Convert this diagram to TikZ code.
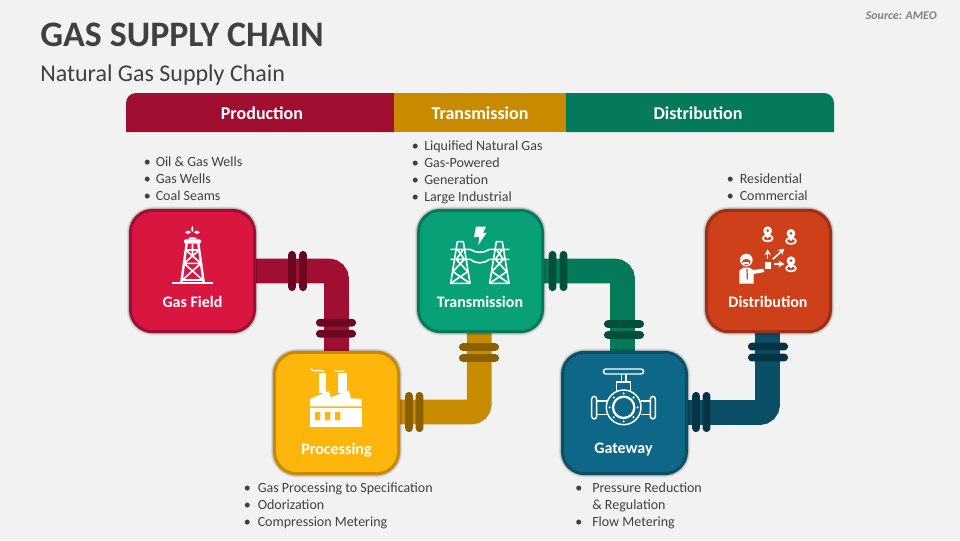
\documentclass[tikz,border=0pt]{standalone}
\usepackage{fontspec}
\setmainfont{Carlito}
\usetikzlibrary{calc,arrows.meta}
\pgfdeclarelayer{pipes}
\pgfsetlayers{pipes,main}
\definecolor{bgc}{HTML}{F2F2F2}
\definecolor{txt}{HTML}{404040}
\definecolor{redA}{HTML}{D81640}\definecolor{redB}{HTML}{A00E32}\definecolor{redC}{HTML}{6A0820}
\definecolor{golA}{HTML}{FFB60C}\definecolor{golB}{HTML}{C88B00}\definecolor{golC}{HTML}{8A6000}
\definecolor{grnA}{HTML}{07A077}\definecolor{grnB}{HTML}{047A5B}\definecolor{grnC}{HTML}{034F3B}
\definecolor{bluA}{HTML}{0F6787}\definecolor{bluB}{HTML}{0B4F66}\definecolor{bluC}{HTML}{063444}
\definecolor{oraA}{HTML}{CD401A}\definecolor{oraB}{HTML}{A03014}
\newcommand\bl[2]{\makebox[#1][l]{•}#2}
\tikzset{
  stage/.style={rectangle,rounded corners=16.5pt,minimum width=93pt,minimum height=91pt,line width=2.25pt,
    preaction={draw=black,draw opacity=.04,line width=6pt},preaction={draw=black,draw opacity=.07,line width=4.8pt},preaction={draw=black,draw opacity=.12,line width=3.6pt}},
  stagelabel/.style={text=white,font=\fontsize{12}{14}\selectfont\bfseries},
  barlabel/.style={text=white,font=\fontsize{13.5}{16}\selectfont\bfseries},
  pipe/.style={line width=18.6pt,rounded corners=6pt,line cap=butt},
  vflange/.style={rectangle,rounded corners=2.7pt,minimum width=5.7pt,minimum height=30pt,inner sep=0pt},
  hflange/.style={rectangle,rounded corners=2.7pt,minimum width=30pt,minimum height=5.7pt,inner sep=0pt},
  notes/.style={align=left,anchor=north west,inner sep=0pt,text=txt,font=\fontsize{10.5}{12.75}\selectfont},
  ico/.style={draw=white,line width=#1,line join=round},
  ico/.default=1pt,
  tip/.style={-{Stealth[length=4.5pt,width=5pt]}},
}
\begin{document}
\begin{tikzpicture}[x=.75pt,y=-.75pt]
\useasboundingbox (0,0) rectangle (960,540);
\begin{pgfonlayer}{pipes}
\fill[bgc] (0,0) rectangle (960,540);
\end{pgfonlayer}
% titles
\node[anchor=west,inner sep=0pt,text=txt,font=\fontsize{26.9}{30}\selectfont\bfseries] (title) at (40,34.5) {GAS SUPPLY CHAIN};
\node[anchor=west,inner sep=0pt,text=txt,font=\fontsize{18}{22}\selectfont] (subtitle) at (40,75) {Natural Gas Supply Chain};
\node[anchor=east,inner sep=0pt,text=black!50,font=\fontsize{8.9}{10}\selectfont\bfseries\itshape] (source) at (937,15.5) {Source: AMEO};
% header bar
\fill[redB] (126,132) -- (126,103) .. controls (126,97.5) and (130.5,93) .. (136,93) -- (394,93) -- (394,132) -- cycle;
\fill[golB] (394,93) rectangle (566,132);
\fill[grnB] (566,93) -- (824,93) .. controls (829.5,93) and (834,97.5) .. (834,103) -- (834,132) -- (566,132) -- cycle;
\node[barlabel] (hprod) at (262,113) {Production};
\node[barlabel] (htran) at (480,113) {Transmission};
\node[barlabel] (hdist) at (698,113) {Distribution};
% stages
\node[stage,fill=redA,draw=redB] (gas) at (192.5,271) {};
\node[stage,fill=golA,draw=golB] (proc) at (336.5,413) {};
\node[stage,fill=grnA,draw=grnB] (tran) at (480.5,271) {};
\node[stage,fill=bluA,draw=bluB] (gate) at (624.5,413) {};
\node[stage,fill=oraA,draw=oraB] (dist) at (768.5,271) {};
\node[stagelabel] (lgas) at (192.5,301.5) {Gas Field};
\node[stagelabel] (lproc) at (336.5,450) {Processing};
\node[stagelabel] (ltran) at (480,301.5) {Transmission};
\node[stagelabel] (lgate) at (623.5,450) {Gateway};
\node[stagelabel] (ldist) at (768,301.5) {Distribution};
% pipes
\begin{pgfonlayer}{pipes}
\draw[pipe,draw=redB] (gas.east) -| (proc.north);
\draw[pipe,draw=golB] ($(proc.east)+(0,-1)$) -| ($(tran.south)+(-1.3,0)$);
\draw[pipe,draw=grnB] (tran.east) -| ($(gate.north)+(-2,0)$);
\draw[pipe,draw=bluB] ($(gate.east)+(0,-.5)$) -| ($(dist.south)+(-1,0)$);
\end{pgfonlayer}
% flanges
\node[vflange,fill=redC] (fa1) at (292,271) {};
\node[vflange,fill=redC] (fa2) at (303,271) {};
\node[hflange,fill=redC] (fa3) at (336,322.7) {};
\node[hflange,fill=redC] (fa4) at (336,333.7) {};
\node[vflange,fill=golC] (fb1) at (409,412) {};
\node[vflange,fill=golC] (fb2) at (419.5,412) {};
\node[hflange,fill=golC] (fb3) at (479,347) {};
\node[hflange,fill=golC] (fb4) at (479,358) {};
\node[vflange,fill=grnC] (fc1) at (552.5,271) {};
\node[vflange,fill=grnC] (fc2) at (563.5,271) {};
\node[hflange,fill=grnC] (fc3) at (624,324) {};
\node[hflange,fill=grnC] (fc4) at (624,335) {};
\node[vflange,fill=bluC] (fd1) at (696,412) {};
\node[vflange,fill=bluC] (fd2) at (706.5,412) {};
\node[hflange,fill=bluC] (fd3) at (768,346.5) {};
\node[hflange,fill=bluC] (fd4) at (768,357.5) {};
% notes
\node[notes] (n1) at (143.5,156.5) {\bl{12\dimexpr.75pt\relax}{Oil \& Gas Wells}\\\bl{12\dimexpr.75pt\relax}{Gas Wells}\\\bl{12\dimexpr.75pt\relax}{Coal Seams}};
\node[notes] (n2) at (411.5,140.5) {\bl{12.5\dimexpr.75pt\relax}{Liquified Natural Gas}\\\bl{12.5\dimexpr.75pt\relax}{Gas-Powered}\\\bl{12.5\dimexpr.75pt\relax}{Generation}\\\bl{12.5\dimexpr.75pt\relax}{Large Industrial}};
\node[notes] (n3) at (726.5,173.5) {\bl{13\dimexpr.75pt\relax}{Residential}\\\bl{13\dimexpr.75pt\relax}{Commercial}};
\node[notes] (n4) at (243.5,482.5) {\bl{14\dimexpr.75pt\relax}{Gas Processing to Specification}\\\bl{14\dimexpr.75pt\relax}{Odorization}\\\bl{14\dimexpr.75pt\relax}{Compression Metering}};
\node[notes] (n5) at (575,482.5) {\bl{17\dimexpr.75pt\relax}{Pressure Reduction}\\\makebox[17\dimexpr.75pt\relax][l]{}{\& Regulation}\\\bl{17\dimexpr.75pt\relax}{Flow Metering}};
% icon: derrick
\begin{scope}[shift={(120,200)},x=.25pt,y=-.25pt]
\fill[white] (156,245) rectangle (279,252);
\draw[ico=1.8pt] (200,130)--(184,247) (235,130)--(251,247);
\draw[ico=1.2pt] (197,150)--(238,150) (192,190)--(243,190) (187,240)--(248,240)
  (197,150)--(243,190) (238,150)--(192,190) (192,190)--(248,240) (243,190)--(187,240) (217.5,132)--(217.5,170);
\fill[white,rounded corners=1pt] (192,131) rectangle (243,118);
\fill[white,rounded corners=1pt] (205,118) rectangle (230,112);
\fill[white] (217,77) .. controls (222,87) and (221,96) .. (217,96) .. controls (213,96) and (212,87) .. (217,77) -- cycle;
\fill[white] (195,97) .. controls (203,89) and (213,92) .. (212,98) .. controls (208,104) and (200,104) .. (195,97) -- cycle;
\fill[white] (240,97) .. controls (232,89) and (222,92) .. (223,98) .. controls (227,104) and (235,104) .. (240,97) -- cycle;
\end{scope}
% icon: factory
\begin{scope}[shift={(120,200)},x=.25pt,y=-.25pt]
\fill[white] (596,520) rectangle (618,580);
\fill[white] (655,520) rectangle (680,580);
\draw[ico=.9pt] (573,505) .. controls (585,522) and (595,505) .. (612,514);
\draw[ico=.9pt] (645,511) .. controls (652,520) and (660,508) .. (673,515);
\fill[white] (570,597) -- (626,573) -- (632,592) -- (688,572) -- (692,595) -- (725,597) -- (725,619) -- (570,619) -- cycle;
\fill[white] (570,624) rectangle (725,681);
\fill[golA] (585,636) rectangle (601,661) (615,636) rectangle (631,661) (645,636) rectangle (661,661);
\end{scope}
% icon: towers and bolt
\begin{scope}[shift={(400,200)},x=.25pt,y=-.25pt]
\fill[white] (228,80) -- (258,80) -- (249,99) -- (260,98) -- (235,135) -- (238,110) -- (222,112) -- cycle;
\foreach \cx in {181,298}{
  \draw[ico=1.2pt] (\cx-9,125) -- (\cx+9,125) -- (\cx+29,250) -- (\cx-29,250) -- cycle;
  \draw[ico=1.2pt] (\cx-30,148) -- (\cx+30,148) (\cx-30,178) -- (\cx+30,178)
     (\cx-9,148) -- (\cx+12,178) (\cx+9,148) -- (\cx-12,178)
     (\cx-12,178) -- (\cx+22,215) (\cx+12,178) -- (\cx-22,215)
     (\cx-22,215) -- (\cx+29,250) (\cx+22,215) -- (\cx-29,250);
}
\draw[ico=1.2pt] (211,148) .. controls (225,160) and (254,160) .. (268,148);
\draw[ico=1.2pt] (211,178) .. controls (225,192) and (254,192) .. (268,178);
\end{scope}
% icon: valve
\begin{scope}[shift={(400,200)},x=.25pt,y=-.25pt]
\draw[ico=1.1pt,rounded corners=2pt] (610,507) rectangle (731,522);
\draw[ico=1.1pt] (664,522) -- (664,546) (678,522) -- (678,546);
\draw[ico=1.1pt] (650,572) -- (650,546) -- (691,546) -- (691,572);
\draw[ico=1.1pt] (671,622) circle[x radius=52,y radius=52];
\draw[ico=1.7pt] (671,622) circle[x radius=32,y radius=32];
\foreach \a in {0,45,...,315}{\fill[white] ($(671,622)+(\a:42)$) circle[radius=3.5];}
\draw[ico=1.1pt] (620,603) -- (590,603) (620,643) -- (590,643) (722,603) -- (750,603) (722,643) -- (750,643);
\draw[ico=1.1pt,rounded corners=2pt] (575,589) rectangle (590,657);
\draw[ico=1.1pt,rounded corners=2pt] (751,589) rectangle (766,657);
\end{scope}
% icon: distribution
\begin{scope}[shift={(680,200)},x=.25pt,y=-.25pt]
\foreach \px/\py in {263/100,333/108,333/190}{
  \draw[ico=1.3pt] (\px,\py+15) circle[x radius=15,y radius=9];
  \fill[white] (\px,\py-8) circle[radius=13] (\px-12,\py-3) -- (\px+12,\py-3) -- (\px,\py+16) -- cycle;
  \fill[oraA] (\px,\py-8) circle[radius=4.5];
}
\fill[white] (199,180) circle[radius=19];
\fill[oraA] (199,186) circle[x radius=13,y radius=9];
\fill[white] (190,187) rectangle (208,192);
\fill[white] (178,251) -- (178,212) -- (190,203) -- (208,203) -- (220,210) -- (250,206) -- (253,216) -- (221,222) -- (221,251) -- cycle;
\draw[draw=oraA,line width=.9pt] (201,207) -- (202,238);
\fill[white] (256,185) rectangle (272,208);
\draw[ico=1.2pt,tip] (263,178) -- (263,148);
\draw[ico=1.2pt,tip] (278,178) -- (313,146);
\draw[ico=1.2pt,tip] (283,192) -- (313,192);
\end{scope}
\end{tikzpicture}
\end{document}
